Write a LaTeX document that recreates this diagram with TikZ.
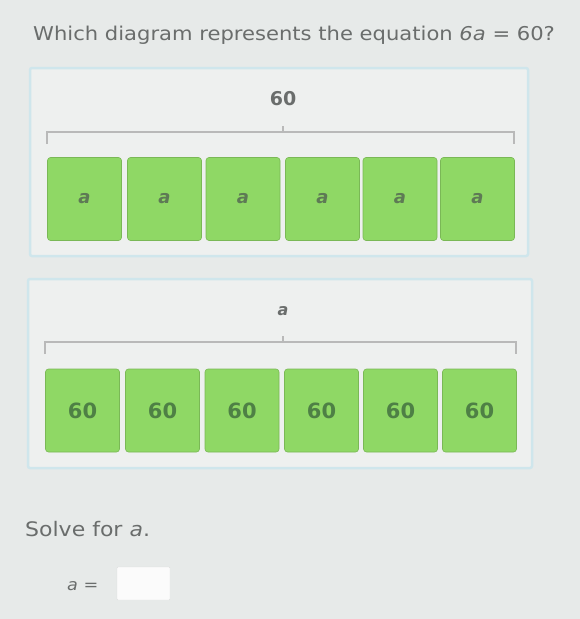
\documentclass[tikz,border=0pt]{standalone}
\usepackage{fontspec}
\usetikzlibrary{calc}
\setmainfont{DejaVu Sans}
\begin{document}
\begin{tikzpicture}[x=1pt,y=-1pt,
  panel/.style={draw=panelblue, line width=2.5pt, fill=panelfill, rounded corners=2pt},
  tile/.style={fill=tilegreen, draw=tilegreen!85!black, line width=0.6pt, rounded corners=3pt, minimum width=74pt, minimum height=83pt, inner sep=0pt, text=tiletext, font=\fontsize{21}{24}\selectfont\bfseries},
  atile/.style={tile, text=atext, font=\fontsize{18}{20}\selectfont\bfseries\itshape},
  brace/.style={draw=gray!55, line width=1.6pt},
  txt/.style={text=titlegray, inner sep=0pt}
]
\definecolor{tilegreen}{HTML}{8FD865}
\definecolor{tiletext}{HTML}{4E8045}
\definecolor{atext}{HTML}{5E7A55}
\definecolor{bg}{HTML}{E7EAE9}
\definecolor{panelfill}{HTML}{EEF0EF}
\definecolor{panelblue}{HTML}{CFE6EC}
\definecolor{titlegray}{HTML}{6A6D6C}
\useasboundingbox (0,0) rectangle (580,619);
\fill[bg] (0,0) rectangle (580,619);
% title
\node[txt, anchor=west, font=\fontsize{19}{22}\selectfont] (title) at (33,35) {\scalebox{1.11}[1]{Which diagram represents the equation \textit{6a} = 60?}};
% panel 1
\draw[panel] (30,68) rectangle (528,256);
\node[txt, font=\fontsize{19}{22}\selectfont\bfseries] (t1) at (283,99) {60};
\coordinate (b1l) at (47,132); \coordinate (b1r) at (514,132); \coordinate (b1c) at (283,132);
\draw[brace] ($(b1l)+(0,12)$) -- (b1l) -- (b1r) -- ($(b1r)+(0,12)$);
\draw[brace] (b1c) -- ++(0,-6);
\foreach \i/\x in {1/84.5,2/164.5,3/243,4/322.5,5/400,6/477.5}{
  \node[atile] (p\i) at (\x,199) {a};
}
% panel 2
\draw[panel] (28,279) rectangle (532,468);
\node[txt, font=\fontsize{16}{18}\selectfont\bfseries\itshape] (t2) at (283,311) {a};
\coordinate (b2l) at (45,342); \coordinate (b2r) at (516,342); \coordinate (b2c) at (283,342);
\draw[brace] ($(b2l)+(0,12)$) -- (b2l) -- (b2r) -- ($(b2r)+(0,12)$);
\draw[brace] (b2c) -- ++(0,-6);
\foreach \i/\x in {1/82.5,2/162.5,3/242,4/321.5,5/400.5,6/479.5}{
  \node[tile] (q\i) at (\x,410.5) {60};
}
% solve
\node[txt, anchor=west, font=\fontsize{20}{22}\selectfont] (solve) at (25,529) {\scalebox{1.1}[1]{Solve for \textit{a}.}};
\node[txt, anchor=west, font=\fontsize{16}{18}\selectfont] (aeq) at (67,586) {\scalebox{1.1}[1]{\textit{a} =}};
\node[draw=gray!25, fill=white!97!gray, minimum width=53pt, minimum height=33pt, inner sep=0pt, rounded corners=1pt] (ans) at (143.5,583.5) {};
\end{tikzpicture}
\end{document}
